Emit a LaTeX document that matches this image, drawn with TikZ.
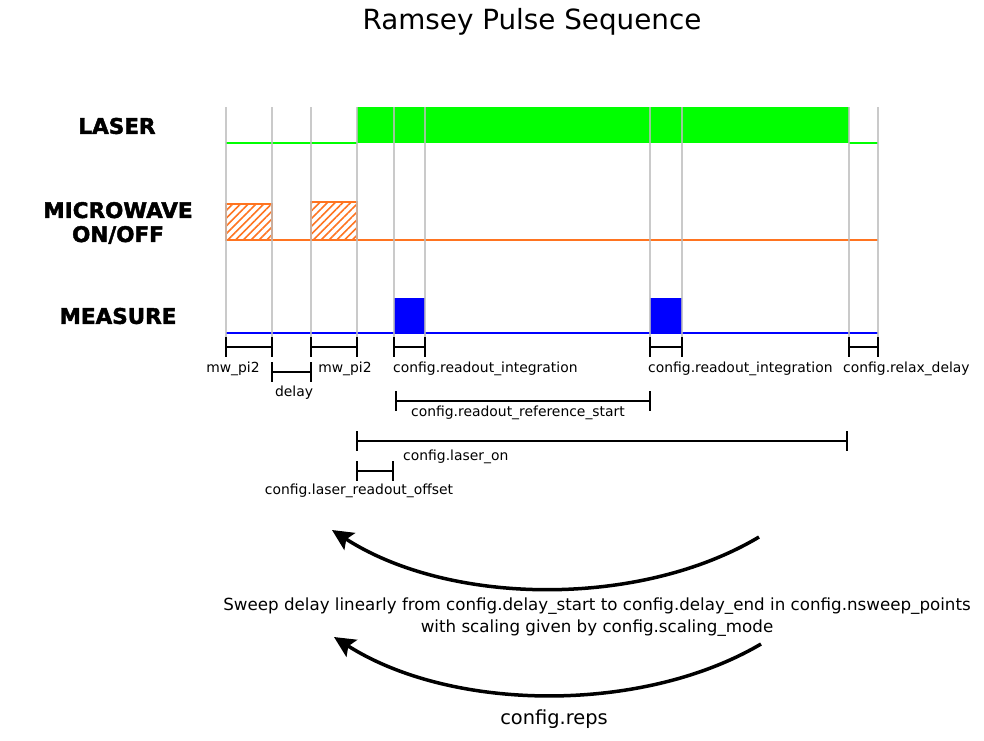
\documentclass[tikz,border=0pt]{standalone}
\usepackage{fontspec}
\setmainfont{DejaVu Sans}
\newfontfamily\rowfont[FakeBold=2]{DejaVu Sans Bold}
\usetikzlibrary{arrows.meta,patterns.meta}
\definecolor{lasergreen}{HTML}{00FF00}
\definecolor{mworange}{HTML}{FF7420}
\definecolor{measblue}{HTML}{0000FF}
\definecolor{gridgrey}{HTML}{BDBDBD}
\newcommand{\spanbar}[3]{\draw[bar] (#1,#3-10)--(#1,#3+10) (#1,#3)--(#2,#3) (#2,#3-10)--(#2,#3+10);}

\begin{document}
\begin{tikzpicture}[x=1pt,y=-1pt,>=Stealth,
rowlabel/.style={font=\rowfont\fontsize{21.5}{24}\selectfont,align=center,text=black},
small/.style={font=\fontsize{13.9}{16}\selectfont,inner sep=0pt},
bar/.style={line width=1.8pt,black},
guide/.style={gridgrey,line width=1.8pt,opacity=.8},
sweep/.style={line width=3.5pt,black,arrows={-Stealth[length=21pt,width=20pt,inset=4pt]}}]

\useasboundingbox[fill=white] (0,0) rectangle (984,740);

\node[font=\fontsize{27.8}{30}\selectfont] (title) at (532,22){Ramsey Pulse Sequence};

% channel labels
\node[rowlabel] (laser) at (117,126){LASER};
\node[rowlabel] (mw) at (118,223){MICROWAVE\\ON/OFF};
\node[rowlabel] (meas) at (118,316){MEASURE};

% laser
\fill[lasergreen] (357,107) rectangle (849,143);
\draw[lasergreen,line width=1.8pt] (226,143)--(357,143) (849,143)--(878,143);

% microwave
\draw[mworange,line width=1.2pt,pattern={Lines[angle=45,distance=5.5pt,line width=1.6pt]},pattern color=mworange] (226,204) rectangle (272,240);
\draw[mworange,line width=1.2pt,pattern={Lines[angle=45,distance=5.5pt,line width=1.6pt]},pattern color=mworange] (311,202) rectangle (357,240);
\draw[mworange,line width=1.8pt] (226,240)--(878,240);

% measure
\fill[measblue] (394,298) rectangle (425,333);
\fill[measblue] (650,298) rectangle (682,333);
\draw[measblue,line width=1.8pt] (226,333)--(878,333);

% time markers
\draw[guide] (226,107)--(226,357) (272,107)--(272,357) (311,107)--(311,357) (357,107)--(357,357)
  (394,107)--(394,357) (425,107)--(425,357) (650,107)--(650,357) (682,107)--(682,357)
  (849,107)--(849,357) (878,107)--(878,357);

% durations
\spanbar{226}{272}{347}
\spanbar{272}{311}{372}
\spanbar{311}{357}{347}
\spanbar{394}{425}{347}
\spanbar{650}{682}{347}
\spanbar{849}{878}{347}
\spanbar{396}{650}{401}
\spanbar{357}{847}{441}
\spanbar{357}{393}{471}

\node[small] (pi1) at (233,369){mw\_pi2};
\node[small] (dl) at (294,393){delay};
\node[small] (pi2) at (345,369){mw\_pi2};
\node[small,anchor=west] (ri1) at (393,369){config.readout\_integration};
\node[small,anchor=west] (ri2) at (648,369){config.readout\_integration};
\node[small,anchor=west] (rd) at (843,369){config.relax\_delay};
\node[small] (rrs) at (518,413){config.readout\_reference\_start};
\node[small,anchor=west] (lon) at (403,457){config.laser\_on};
\node[small] (lro) at (359,491){config.laser\_readout\_offset};

% loops
\coordinate (s1a) at (759,537);
\coordinate (s1b) at (332,530);
\coordinate (s2a) at (761,644);
\coordinate (s2b) at (334,637);
\draw[sweep] (s1a) .. controls (640,608) and (450,606) .. (s1b);
\node[font=\fontsize{16.7}{22}\selectfont,align=center] (sw) at (597,617){Sweep delay linearly from config.delay\_start to config.delay\_end in config.nsweep\_points\\with scaling given by config.scaling\_mode};
\draw[sweep] (s2a) .. controls (642,714) and (452,712) .. (s2b);
\node[font=\fontsize{19.4}{22}\selectfont] (reps) at (554,719){config.reps};
\end{tikzpicture}
\end{document}
